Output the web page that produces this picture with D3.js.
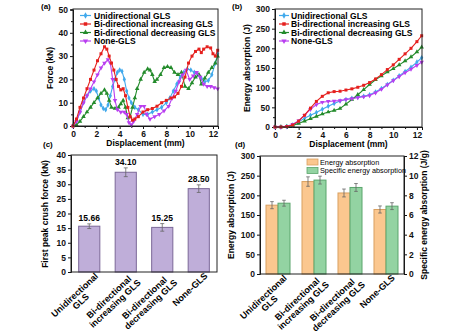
<!DOCTYPE html>
<html>
<head>
<meta charset="utf-8">
<script src="https://cdnjs.cloudflare.com/ajax/libs/d3/7.8.5/d3.min.js"></script>
<style>
body { margin: 0; background: #fff; }
svg { font-family: "Liberation Sans", Arial, sans-serif; font-weight: bold; }
</style>
</head>
<body>
<svg id="chart" width="474" height="333"></svg>
<script>
// ---- data ----
var seriesNames = ["Unidirectional GLS", "Bi-directional increasing GLS", "Bi-directional decreasing GLS", "None-GLS"];
var seriesColors = ["#41a9ec", "#e5201e", "#238b2b", "#b93ef0"];

// (a) force vs displacement
var forceUniX = [0, 0.3, 0.6, 0.9, 1.2, 1.5, 1.8, 2.0, 2.2, 2.4, 2.6, 2.8, 3.0, 3.2, 3.4, 3.6, 3.8, 4.0, 4.2, 4.4, 4.6, 4.8, 5.0, 5.3, 5.6, 6.0, 6.4, 6.8, 7.2, 7.6, 8.0, 8.3, 8.6, 8.9, 9.2, 9.5, 9.8, 10.1, 10.4, 10.7, 11.0, 11.3, 11.6, 11.9, 12.2, 12.4];
var forceUniY = [0, 2, 6, 10, 13, 15, 16, 15, 12, 9, 7.5, 7, 9, 13, 17, 20, 23, 24, 23.5, 20, 15, 12, 10, 8, 7, 5, 5, 6, 7, 8, 10, 12, 15, 18, 21, 23, 24.5, 24, 23, 22, 20.5, 19, 19.5, 22, 27, 31];
var forceIncX = [0, 0.3, 0.6, 0.9, 1.2, 1.5, 1.8, 2.1, 2.4, 2.7, 2.9, 3.1, 3.3, 3.5, 3.7, 3.9, 4.1, 4.3, 4.5, 4.7, 4.9, 5.1, 5.3, 5.6, 6.0, 6.4, 6.8, 7.2, 7.6, 8.0, 8.4, 8.7, 9.0, 9.3, 9.6, 9.9, 10.2, 10.5, 10.8, 11.0, 11.2, 11.5, 11.8, 12.0, 12.2, 12.4];
var forceIncY = [0, 3, 8, 12, 16, 20, 24, 28, 31, 34, 33, 30, 27, 24, 20, 17, 15.5, 16, 13, 8, 4, 2.5, 3, 4, 6, 7, 7.5, 8.5, 10, 11, 12, 12.5, 14, 17, 21, 27, 30, 32, 33, 31.5, 33, 34, 33.5, 31, 30, 32.5];
var forceDecX = [0, 0.3, 0.6, 0.9, 1.2, 1.5, 1.8, 2.1, 2.4, 2.7, 2.9, 3.1, 3.3, 3.6, 3.9, 4.1, 4.3, 4.5, 4.7, 4.9, 5.1, 5.3, 5.5, 5.8, 6.1, 6.4, 6.6, 6.8, 7.0, 7.2, 7.5, 7.8, 8.1, 8.4, 8.7, 9.0, 9.3, 9.6, 9.9, 10.2, 10.5, 10.8, 11.0, 11.3, 11.6, 11.9, 12.2, 12.4];
var forceDecY = [0, 0.5, 2, 4, 6, 8, 10, 12, 14, 15.5, 14, 11, 8, 7.5, 8, 9.5, 11, 8, 3.5, 4, 8, 12, 16, 20, 23, 24.5, 24, 22, 19, 20, 22, 25, 25.5, 25, 23, 22, 23, 17, 16, 18.5, 21, 22, 18, 20.5, 23, 25, 27, 30];
var forceNoneX = [0, 0.3, 0.6, 0.9, 1.2, 1.5, 1.8, 2.1, 2.4, 2.7, 3.0, 3.2, 3.4, 3.6, 3.8, 4.1, 4.4, 4.6, 4.8, 5.0, 5.2, 5.5, 5.8, 6.1, 6.3, 6.6, 7.0, 7.4, 7.8, 8.2, 8.5, 8.8, 9.1, 9.4, 9.7, 10.0, 10.3, 10.6, 10.9, 11.2, 11.5, 11.8, 12.1, 12.4];
var forceNoneY = [0, 2, 6, 10, 13, 16, 19, 22, 25, 27, 28.5, 27, 20, 11, 7, 6, 6, 5, 1.5, 0.5, 2, 5, 8.5, 8.5, 5, 3, 4, 5, 6.5, 8.5, 12, 15, 19, 22, 24, 20, 21.5, 23, 21, 18, 17, 17, 16.5, 16];

// (b) energy absorption vs displacement
var energyX = [0, 0.5, 1, 1.5, 2, 2.5, 3, 3.5, 4, 4.5, 5, 5.5, 6, 6.5, 7, 7.5, 8, 8.5, 9, 9.5, 10, 10.5, 11, 11.5, 12, 12.4];
var energyUni = [0, 0, 1, 5, 13, 22, 30, 37, 45, 53, 60, 66, 70, 73, 76, 78, 82, 89, 98, 108, 119, 130, 141, 152, 165, 176];
var energyInc = [0, 0, 1, 5, 15, 30, 48, 65, 78, 87, 90, 91, 94, 97, 101, 106, 113, 122, 133, 146, 158, 172, 186, 200, 217, 232];
var energyDec = [0, 0, 1, 4, 9, 15, 21, 27, 33, 38, 42, 47, 58, 70, 82, 95, 108, 120, 130, 140, 148, 158, 168, 178, 191, 203];
var energyNone = [0, 0, 2, 7, 16, 30, 45, 57, 63, 65, 66, 67, 70, 72, 75, 77, 80, 87, 96, 107, 118, 128, 138, 147, 157, 165];

// (c), (d) bar charts
var categories = [["Unidirectional", "GLS"], ["Bi-directional", "increasing GLS"], ["Bi-directional", "decreasing GLS"], ["None-GLS"]];
var peakForce = [15.66, 34.10, 15.25, 28.50];
var peakForceErr = [0.8, 1.5, 1.3, 1.3];
var energyAbs = [175, 235, 206, 164];
var energyAbsErr = [9, 12, 10, 9];
var specificEA = [7.2, 9.55, 8.8, 6.9];
var specificEAErr = [0.3, 0.4, 0.4, 0.35];

var svg = d3.select("#chart");
var FS = 8.5;

var A = {l: 73, r: 218, t: 9, b: 126};
var B = {l: 275, r: 422, t: 9, b: 127};
var C = {l: 71, r: 217, t: 155, b: 272};
var D = {l: 260, r: 404, t: 156, b: 274};

var symbols = [d3.symbolDiamond, d3.symbolSquare, d3.symbolTriangle, d3.symbolTriangle];
var symRot = [0, 0, 0, 180];

function styleAxis(g) {
  g.selectAll("text").attr("font-size", FS).attr("font-weight", "bold").attr("fill", "#111");
  g.selectAll("line,path").attr("stroke", "#111");
}

function frame(p) {
  svg.append("rect").attr("x", p.l).attr("y", p.t)
    .attr("width", p.r - p.l).attr("height", p.b - p.t)
    .attr("fill", "none").attr("stroke", "#222").attr("stroke-width", 1);
}

function label(txt, x, y) {
  svg.append("text").attr("x", x).attr("y", y).attr("font-size", 8).text(txt);
}

function yTitle(txt, x, y) {
  svg.append("text").attr("transform", "translate(" + x + "," + y + ") rotate(-90)")
    .attr("text-anchor", "middle").attr("font-size", FS).text(txt);
}

function lineLegend(p, x0, x1, tx) {
  seriesNames.forEach(function(name, i) {
    var y = p.t + 6.5 + i * 8.5;
    svg.append("line").attr("x1", x0).attr("x2", x1).attr("y1", y).attr("y2", y)
      .attr("stroke", seriesColors[i]).attr("stroke-width", 1.2);
    svg.append("path").attr("d", d3.symbol().type(symbols[i]).size(12)())
      .attr("transform", "translate(" + ((x0 + x1) / 2) + "," + y + ") rotate(" + symRot[i] + ")")
      .attr("fill", seriesColors[i]);
    svg.append("text").attr("x", tx).attr("y", y + 3).attr("font-size", FS).text(name);
  });
}

function dispAxes(p, y, yMax, yStep, yMinor) {
  var x = d3.scaleLinear().domain([0, 12.43]).range([p.l, p.r]);
  var gx = svg.append("g").attr("transform", "translate(0," + p.b + ")")
    .call(d3.axisBottom(x).tickValues(d3.range(0, 13, 2)).tickSize(3).tickPadding(1.5));
  styleAxis(gx);
  var gxm = svg.append("g").attr("transform", "translate(0," + p.b + ")")
    .call(d3.axisBottom(x).tickValues(d3.range(1, 13, 2)).tickSize(2).tickFormat(""));
  styleAxis(gxm);
  var gy = svg.append("g").attr("transform", "translate(" + p.l + ",0)")
    .call(d3.axisLeft(y).tickValues(d3.range(0, yMax + 1, yStep)).tickSize(3).tickPadding(2));
  styleAxis(gy);
  var gym = svg.append("g").attr("transform", "translate(" + p.l + ",0)")
    .call(d3.axisLeft(y).tickValues(d3.range(yMinor, yMax, yStep)).tickSize(2).tickFormat(""));
  styleAxis(gym);
  svg.append("text").attr("x", (p.l + p.r) / 2).attr("y", p.b + 20)
    .attr("text-anchor", "middle").attr("font-size", FS).text("Displacement (mm)");
  return x;
}

function drawSeries(x, y, xs, ys, i) {
  var pts = xs.map(function(v, j) { return [v, ys[j]]; });
  var line = d3.line().x(function(d) { return x(d[0]); }).y(function(d) { return y(d[1]); });
  svg.append("path").datum(pts).attr("d", line).attr("fill", "none")
    .attr("stroke", seriesColors[i]).attr("stroke-width", 1.1);
  svg.append("g").selectAll("path").data(pts).join("path")
    .attr("d", d3.symbol().type(symbols[i]).size(9)())
    .attr("transform", function(d) { return "translate(" + x(d[0]) + "," + y(d[1]) + ") rotate(" + symRot[i] + ")"; })
    .attr("fill", seriesColors[i]);
}

// ---- (a) ----
var yA = d3.scaleLinear().domain([0, 50]).range([A.b, A.t + 0.5]);
var xA = dispAxes(A, yA, 50, 10, 5);
var forceX = [forceUniX, forceIncX, forceDecX, forceNoneX];
var forceY = [forceUniY, forceIncY, forceDecY, forceNoneY];
// draw order: blue, green, magenta, red on top
[0, 2, 3, 1].forEach(function(i) { drawSeries(xA, yA, forceX[i], forceY[i], i); });
frame(A);
lineLegend(A, 80, 91, 94);
yTitle("Force (kN)", 53, 68);
label("(a)", 41, 9);

// ---- (b) ----
var yB = d3.scaleLinear().domain([0, 300]).range([B.b, B.t]);
var xB = dispAxes(B, yB, 300, 50, 25);
var energyY = [energyUni, energyInc, energyDec, energyNone];
[0, 2, 3, 1].forEach(function(i) { drawSeries(xB, yB, energyX, energyY[i], i); });
frame(B);
lineLegend(B, 279, 289, 291);
yTitle("Energy absorption (J)", 250, 68);
label("(b)", 232, 9);

// category labels, slanted, lines centred on each other
function catLabels(xBand, p) {
  categories.forEach(function(lines, i) {
    var g = svg.append("g")
      .attr("transform", "translate(" + (xBand(i) + xBand.bandwidth() / 2 + 5) + "," + p.b + ") rotate(-43)");
    var texts = lines.map(function(s, k) {
      return g.append("text").attr("font-size", 9).attr("text-anchor", "middle")
        .attr("y", 6.5 + k * 9).text(s);
    });
    var w = d3.max(texts, function(t) { return t.node().getComputedTextLength(); });
    texts.forEach(function(t) { t.attr("x", -w / 2); });
  });
}

function errBar(x, yTop, yBot, cap) {
  svg.append("line").attr("x1", x).attr("x2", x).attr("y1", yTop).attr("y2", yBot)
    .attr("stroke", "#666").attr("stroke-width", 0.8);
  [yTop, yBot].forEach(function(yy) {
    svg.append("line").attr("x1", x - cap).attr("x2", x + cap).attr("y1", yy).attr("y2", yy)
      .attr("stroke", "#666").attr("stroke-width", 0.8);
  });
}

// ---- (c) ----
var xC = d3.scaleBand().domain(d3.range(4)).range([C.l, C.r]).paddingInner(0.42).paddingOuter(0.21);
var yC = d3.scaleLinear().domain([0, 40]).range([C.b, C.t]);
svg.append("g").selectAll("rect").data(peakForce).join("rect")
  .attr("x", function(d, i) { return xC(i); })
  .attr("y", function(d) { return yC(d); })
  .attr("width", xC.bandwidth())
  .attr("height", function(d) { return C.b - yC(d); })
  .attr("fill", "#bfaed9").attr("stroke", "#7b6898").attr("stroke-width", 1);
peakForce.forEach(function(v, i) {
  var cx = xC(i) + xC.bandwidth() / 2;
  errBar(cx, yC(v + peakForceErr[i]), yC(v - peakForceErr[i]), 2);
  svg.append("text").attr("x", cx).attr("y", yC(v + peakForceErr[i]) - 2.5)
    .attr("text-anchor", "middle").attr("font-size", FS).text(v.toFixed(2));
});
var gyc = svg.append("g").attr("transform", "translate(" + C.l + ",0)")
  .call(d3.axisLeft(yC).tickValues(d3.range(0, 41, 5)).tickSize(3).tickPadding(2));
styleAxis(gyc);
frame(C);
catLabels(xC, C);
yTitle("First peak crush force (kN)", 48, 214);
label("(c)", 43, 147);

// ---- (d) ----
var xD = d3.scaleBand().domain(d3.range(4)).range([D.l, D.r]).paddingInner(0.333).paddingOuter(0.1667);
var xD1 = d3.scaleBand().domain([0, 1]).range([0, xD.bandwidth()]);
var yD = d3.scaleLinear().domain([0, 300]).range([D.b, D.t]);
var yD2 = d3.scaleLinear().domain([0, 12]).range([D.b, D.t]);
energyAbs.forEach(function(v, i) {
  var x0 = xD(i) + xD1(0);
  svg.append("rect").attr("x", x0).attr("y", yD(v)).attr("width", xD1.bandwidth())
    .attr("height", D.b - yD(v)).attr("fill", "#fbc78f").attr("stroke", "#d9a060").attr("stroke-width", 1);
  errBar(x0 + xD1.bandwidth() / 2, yD(v + energyAbsErr[i]), yD(v - energyAbsErr[i]), 1.8);
});
specificEA.forEach(function(v, i) {
  var x0 = xD(i) + xD1(1);
  svg.append("rect").attr("x", x0).attr("y", yD2(v)).attr("width", xD1.bandwidth())
    .attr("height", D.b - yD2(v)).attr("fill", "#93d3a2").attr("stroke", "#5aa56c").attr("stroke-width", 1);
  errBar(x0 + xD1.bandwidth() / 2, yD2(v + specificEAErr[i]), yD2(v - specificEAErr[i]), 1.8);
});
var gyd = svg.append("g").attr("transform", "translate(" + D.l + ",0)")
  .call(d3.axisLeft(yD).tickValues(d3.range(0, 301, 50)).tickSize(3).tickPadding(2));
styleAxis(gyd);
var gyd2 = svg.append("g").attr("transform", "translate(" + D.r + ",0)")
  .call(d3.axisRight(yD2).tickValues(d3.range(0, 13, 2)).tickSize(3).tickPadding(2));
styleAxis(gyd2);
frame(D);
catLabels(xD, D);
yTitle("Energy absorption (J)", 234, 215);
yTitle("Specific energy absorption (J/g)", 427, 215);
label("(d)", 235, 147);

// bar legend
[["Energy absorption", "#fbc78f", "#d9a060"], ["Specific energy absorption", "#93d3a2", "#5aa56c"]].forEach(function(e, k) {
  var y = 159 + k * 8.5;
  svg.append("rect").attr("x", 307).attr("y", y).attr("width", 11).attr("height", 6)
    .attr("fill", e[1]).attr("stroke", e[2]).attr("stroke-width", 0.8);
  svg.append("text").attr("x", 320).attr("y", y + 5.5).attr("font-size", 7.3)
    .attr("font-weight", "normal").text(e[0]);
});
</script>
</body>
</html>
